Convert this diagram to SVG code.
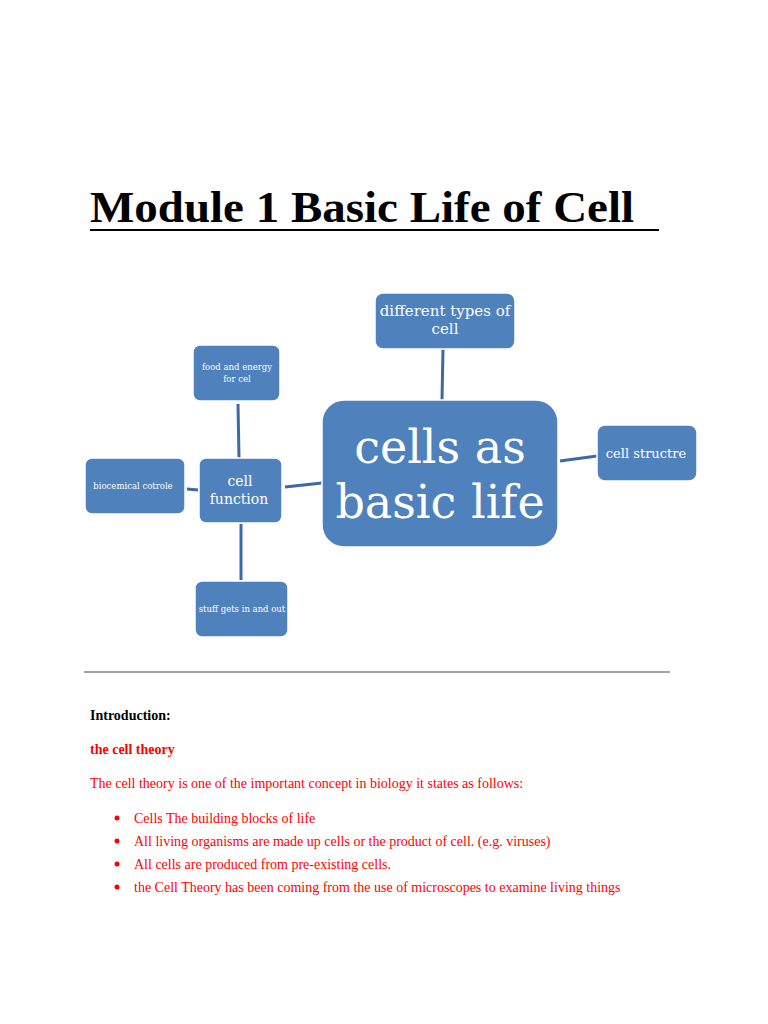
<svg xmlns="http://www.w3.org/2000/svg" width="768" height="1024" viewBox="0 0 768 1024">
<style>
.n{fill:#4f81bd;stroke:#fff;stroke-width:1.5}
.t{fill:#fff;font-family:"DejaVu Serif",serif;text-anchor:middle}
.c{stroke:#3d6aa6;stroke-width:3;fill:none}
.r{fill:#ff0000;font-family:"Liberation Serif",serif;font-size:14px}
</style>
<rect width="768" height="1024" fill="#fff"/>
<text x="90" y="222" font-family="Liberation Serif,serif" font-weight="bold" font-size="44" fill="#000" textLength="544" lengthAdjust="spacingAndGlyphs">Module 1 Basic Life of Cell</text>
<line x1="90" y1="230" x2="659" y2="230" stroke="#000" stroke-width="2"/>
<g id="connectors">
<line class="c" x1="443" y1="349" x2="442" y2="400"/>
<line class="c" x1="560" y1="461" x2="597" y2="456"/>
<line class="c" x1="285" y1="487" x2="322" y2="483"/>
<line class="c" x1="238" y1="404" x2="239" y2="458"/>
<line class="c" x1="187" y1="489" x2="198" y2="490"/>
<line class="c" x1="241" y1="524" x2="241" y2="580"/>
</g>
<g id="center"><rect class="n" x="322" y="400" width="236" height="147" rx="22"/><text class="t" x="440" y="463" font-size="46" font-family="Open Sans,sans-serif">cells as</text><text class="t" x="440" y="518" font-size="46" font-family="Open Sans,sans-serif">basic life</text></g>
<g id="types"><rect class="n" x="375" y="293" width="140" height="56" rx="8"/><text class="t" x="445" y="316" font-size="15" font-family="Noto Sans,sans-serif">different types of</text><text class="t" x="445" y="334" font-size="15" font-family="Noto Sans,sans-serif">cell</text></g>
<g id="structure"><rect class="n" x="597" y="425" width="100" height="56" rx="8"/><text class="t" x="646" y="458" font-size="13" font-family="Noto Sans,sans-serif">cell structre</text></g>
<g id="function"><rect class="n" x="199" y="458" width="83" height="65" rx="7"/><text class="t" x="240" y="486" font-size="14">cell</text><text class="t" x="239" y="504" font-size="14">function</text></g>
<g id="food"><rect class="n" x="193" y="345" width="87" height="56" rx="7"/><text class="t" x="237" y="370" font-size="8.5">food and energy</text><text class="t" x="237" y="382" font-size="8.5">for cel</text></g>
<g id="bio"><rect class="n" x="85" y="458" width="100" height="56" rx="7"/><text class="t" x="133" y="489" font-size="8.5">biocemical cotrole</text></g>
<g id="stuff"><rect class="n" x="195" y="581" width="93" height="56" rx="7"/><text class="t" x="242" y="612" font-size="8.5">stuff gets in and out</text></g>
<line x1="84" y1="672" x2="670" y2="672" stroke="#a0a0a0" stroke-width="2"/>
<text x="90" y="720" font-family="Liberation Serif,serif" font-weight="bold" font-size="14">Introduction:</text>
<text x="90" y="754" class="r" font-weight="bold">the cell theory</text>
<text x="90" y="788" class="r">The cell theory is one of the important concept in biology it states as follows:</text>
<g class="r">
<circle cx="117" cy="818" r="2.5" fill="#f00"/><text x="134" y="823" class="r">Cells The building blocks of life</text>
<circle cx="117" cy="841" r="2.5" fill="#f00"/><text x="134" y="846" class="r">All living organisms are made up cells or the product of cell. (e.g. viruses)</text>
<circle cx="117" cy="864" r="2.5" fill="#f00"/><text x="134" y="869" class="r">All cells are produced from pre-existing cells.</text>
<circle cx="117" cy="887" r="2.5" fill="#f00"/><text x="134" y="892" class="r">the Cell Theory has been coming from the use of microscopes to examine living things</text>
</g>
</svg>
